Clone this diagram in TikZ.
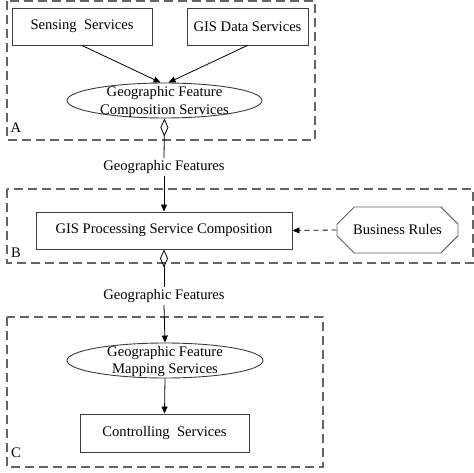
\documentclass[tikz,border=0pt]{standalone}
\usepackage{fontspec}
\setmainfont{Liberation Serif}
\usetikzlibrary{arrows.meta,shapes.geometric,shapes.misc,calc}
\definecolor{dashgray}{RGB}{100,100,100}
\definecolor{boxgray}{RGB}{60,60,60}
\begin{document}
\begin{tikzpicture}[x=1pt,y=-1pt,
  txt/.style={font=\fontsize{14.6}{17.5}\selectfont, text=black},
  grp/.style={draw=dashgray, line width=1.4pt, dash pattern=on 9pt off 5pt},
  box/.style={txt, draw=boxgray, line width=0.9pt, inner sep=0pt},
  ell/.style={ellipse, draw=boxgray, line width=0.9pt, inner sep=0pt},
  conn/.style={draw=black, line width=0.8pt},
  tip/.style={-{Triangle[length=7pt,width=6pt]}},
  dtip/.style={{Diamond[open,length=18pt,width=8pt]}-},
  grplabel/.style={txt, inner sep=0pt}
]
\useasboundingbox (0,0) rectangle (474,473);
% groups
\draw[grp] (7,1) rectangle (315,140);
\draw[grp] (7,189) rectangle (473,263);
\draw[grp] (7,317) rectangle (323,467);
\node[grplabel] (la) at (16,128) {A};
\node[grplabel] (lb) at (16,253) {B};
\node[grplabel] (lc) at (16,453) {C};
% nodes
\node[box, minimum width=140pt, minimum height=37pt] (sens) at (82,26.5) {Sensing\ \ Services};
\node[box, minimum width=121pt, minimum height=37pt] (gisd) at (247.5,26.5) {GIS Data Services};
\node[ell, minimum width=195pt, minimum height=35pt] (e1) at (164.5,100.5) {};
\node[txt, align=center, inner sep=0pt] (e1t) at ($(e1.center)+(0,1.5)$) {Geographic Feature\\Composition Services};
\node[txt, inner sep=2pt] (gf1) at (164,167) {Geographic Features};
\node[box, minimum width=256pt, minimum height=37pt] (proc) at (164,230.5) {GIS Processing Service Composition};
\node[box, chamfered rectangle, chamfered rectangle xsep=11pt, chamfered rectangle ysep=12pt, draw=dashgray, minimum width=121pt, minimum height=46pt] (br) at (397.5,230) {Business Rules};
\node[txt, inner sep=2pt] (gf2) at (164,296) {Geographic Features};
\node[ell, minimum width=196pt, minimum height=35pt] (e2) at (165,360.5) {};
\node[txt, align=center, inner sep=0pt] (e2t) at ($(e2.center)+(0,1)$) {Geographic Feature\\Mapping Services};
\node[box, minimum width=169pt, minimum height=38pt] (ctrl) at (164.5,433) {Controlling\ \ Services};
% connectors
\draw[conn, tip] (sens.south) -- ($(e1.north)+(-4,0)$);
\draw[conn, tip] (gisd.south) -- ($(e1.north)+(4,0)$);
\draw[conn, dtip] (e1.south) -- (gf1.north);
\draw[conn, tip] (gf1.south) -- (proc.north);
\draw[conn, tip, dash pattern=on 5pt off 4pt] (br.west) -- (proc.east);
\draw[conn, dtip] (proc.south) -- (gf2.north);
\draw[conn, tip] (gf2.south) -- (e2.north);
\draw[conn, tip] (e2.south) -- (ctrl.north);
\end{tikzpicture}
\end{document}
